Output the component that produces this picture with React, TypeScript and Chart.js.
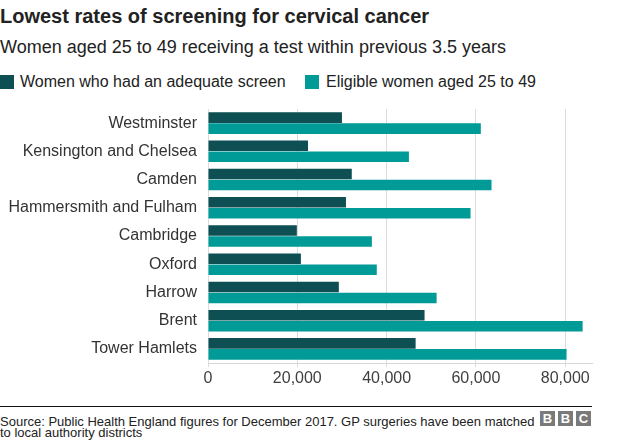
import React, { useEffect, useRef } from "react";
import { Chart, registerables } from "chart.js";

Chart.register(...registerables);

const categories = [
  "Westminster",
  "Kensington and Chelsea",
  "Camden",
  "Hammersmith and Fulham",
  "Cambridge",
  "Oxford",
  "Harrow",
  "Brent",
  "Tower Hamlets",
];
const adequateScreen = [30000, 22400, 32200, 30900, 19900, 20800, 29300, 48500, 46500];
const eligibleWomen = [61100, 45000, 63500, 58800, 36700, 37800, 51200, 83900, 80300];
const tickValues = [0, 20000, 40000, 60000, 80000];

const seriesNames = ["Women who had an adequate screen", "Eligible women aged 25 to 49"];
const DARK = "#0d4f53";
const TEAL = "#009a97";
const FONT = '"Liberation Sans", Arial, Helvetica, sans-serif';

export default function App() {
  const ref = useRef<HTMLCanvasElement | null>(null);

  useEffect(() => {
    document.body.style.margin = "0";
    const ctx = ref.current!.getContext("2d")!;
    const chart = new Chart(ctx, {
      type: "bar",
      data: {
        labels: categories,
        datasets: [
          {
            label: seriesNames[0],
            data: adequateScreen,
            backgroundColor: DARK,
            categoryPercentage: 0.78,
            barPercentage: 0.96,
          },
          {
            label: seriesNames[1],
            data: eligibleWomen,
            backgroundColor: TEAL,
            categoryPercentage: 0.78,
            barPercentage: 0.96,
          },
        ],
      },
      options: {
        indexAxis: "y",
        animation: false,
        responsive: false,
        layout: { padding: { top: 9, right: 32, left: 0, bottom: 0 } },
        plugins: {
          legend: { display: false },
          title: { display: false },
          tooltip: { enabled: false },
        },
        scales: {
          x: {
            min: 0,
            max: 86000,
            grid: {
              color: "#dcdcdc",
              drawTicks: true,
              tickLength: 4,
              tickColor: "#dcdcdc",
            },
            border: { display: true, color: "#d6d6d6" },
            ticks: {
              stepSize: 20000,
              padding: 2,
              color: "#404040",
              font: { family: FONT, size: 16 },
              maxRotation: 0,
            },
            afterBuildTicks: (scale: any) => {
              scale.ticks = tickValues.map((v) => ({ value: v }));
            },
            afterFit: (scale: any) => {
              scale.height = 37;
              scale.paddingLeft = 0;
              scale.paddingRight = 0;
            },
          },
          y: {
            grid: { display: false, drawTicks: false },
            border: { display: false },
            ticks: {
              padding: 11,
              color: "#333333",
              font: { family: FONT, size: 16 },
              autoSkip: false,
            },
            afterFit: (scale: any) => {
              scale.width = 208;
              scale.paddingTop = 0;
              scale.paddingBottom = 0;
            },
          },
        },
      },
    });
    return () => chart.destroy();
  }, []);

  const textBase: React.CSSProperties = {
    position: "absolute",
    fontFamily: FONT,
    whiteSpace: "nowrap",
    margin: 0,
  };

  const bbcBox = (left: number, letter: string) => (
    <div
      key={left}
      style={{
        position: "absolute",
        left,
        top: 411,
        width: 15,
        height: 15,
        background: "#7a7a7a",
        color: "#fff",
        fontFamily: FONT,
        fontWeight: "bold",
        fontSize: 13,
        lineHeight: "15px",
        textAlign: "center",
      }}
    >
      {letter}
    </div>
  );

  return (
    <div
      style={{
        position: "absolute",
        left: 0,
        top: 0,
        width: 624,
        height: 444,
        background: "#fff",
        overflow: "hidden",
      }}
    >
      <div
        style={{
          ...textBase,
          left: 0,
          top: 6,
          fontSize: 20,
          lineHeight: "20px",
          fontWeight: "bold",
          color: "#222",
        }}
      >
        Lowest rates of screening for cervical cancer
      </div>
      <div
        style={{
          ...textBase,
          left: 0,
          top: 38,
          fontSize: 18,
          lineHeight: "18px",
          color: "#222",
        }}
      >
        Women aged 25 to 49 receiving a test within previous 3.5 years
      </div>
      <div style={{ position: "absolute", left: 0, top: 75, width: 14, height: 14, background: DARK }} />
      <div
        style={{ ...textBase, left: 20, top: 74, fontSize: 16, lineHeight: "16px", color: "#222" }}
      >
        {seriesNames[0]}
      </div>
      <div style={{ position: "absolute", left: 305, top: 75, width: 14, height: 14, background: TEAL }} />
      <div
        style={{ ...textBase, left: 326, top: 74, fontSize: 16, lineHeight: "16px", color: "#222" }}
      >
        {seriesNames[1]}
      </div>

      <canvas
        ref={ref}
        width={624}
        height={300}
        style={{ position: "absolute", left: 0, top: 100, width: 624, height: 300 }}
      />

      <div style={{ position: "absolute", left: 0, top: 406, width: 592, height: 1, background: "#111" }} />
      <div
        style={{
          ...textBase,
          left: 0,
          top: 416,
          fontSize: 13,
          lineHeight: "11px",
          color: "#222",
        }}
      >
        Source: Public Health England figures for December 2017. GP surgeries have been matched
        <br />
        to local authority districts
      </div>
      {bbcBox(540, "B")}
      {bbcBox(558, "B")}
      {bbcBox(576, "C")}
    </div>
  );
}
